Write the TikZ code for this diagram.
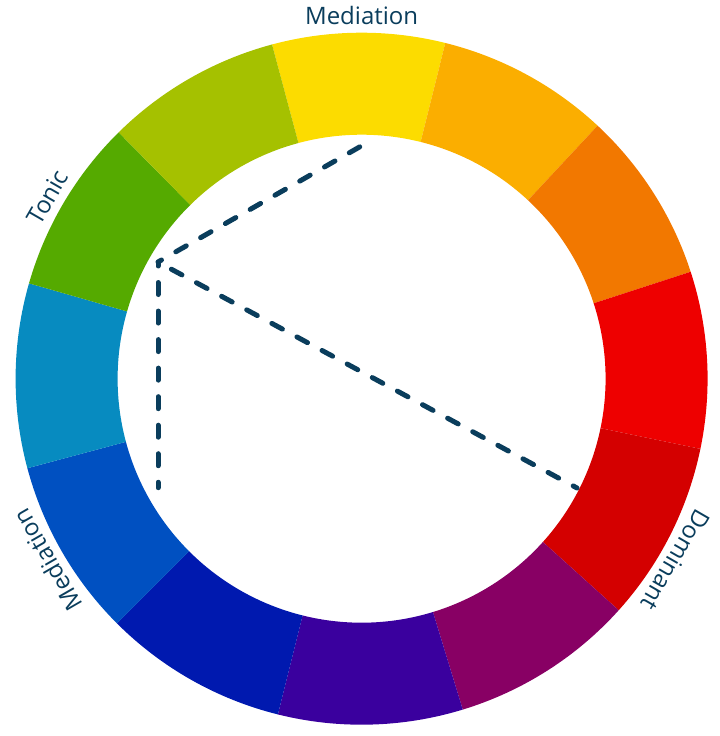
\documentclass[tikz,border=0pt]{standalone}
\usepackage{fontspec}
\setmainfont{Open Sans}
\usetikzlibrary{positioning}
\definecolor{cYellow}{HTML}{FCDC00}
\definecolor{cAmber}{HTML}{FBAE00}
\definecolor{cOrange}{HTML}{F27800}
\definecolor{cRed}{HTML}{EE0000}
\definecolor{cDarkRed}{HTML}{D40000}
\definecolor{cMagenta}{HTML}{880064}
\definecolor{cViolet}{HTML}{3A009E}
\definecolor{cNavy}{HTML}{0019AF}
\definecolor{cBlue}{HTML}{0050C1}
\definecolor{cCyan}{HTML}{078BC0}
\definecolor{cGreen}{HTML}{55AA00}
\definecolor{cLime}{HTML}{A5C100}
\definecolor{ink}{HTML}{0A3D5C}

\begin{document}
\begin{tikzpicture}[x=0.75pt,y=0.75pt,
    step label/.style={text=ink,inner sep=0pt,anchor=base,font=\fontsize{18}{20}\selectfont},
    link/.style={draw=ink,line width=3.75pt,line cap=round,line join=round,
      dash pattern=on 9pt off 12.4pt}]
   \useasboundingbox (0,0) rectangle (720,736);

   \begin{scope}[shift={(361.6,357.3)}]
    % colour ring
    \foreach \c/\s/\e in {cYellow/105/76,cAmber/76/47,cOrange/47/18,cRed/18/-11.7,
        cDarkRed/-11.7/-42,cMagenta/-42/-73,cViolet/-73/-104,cNavy/-104/-135,
        cBlue/-135/-165,cCyan/-165/-196,cGreen/-196/-225.4,cLime/-225.4/-255}{
      \fill[\c] (\s:244) -- (\s:346) arc[start angle=\s,end angle=\e,radius=346]
        -- (\e:244) arc[start angle=\e,end angle=\s,radius=244] -- cycle;
    }

    \node[step label] (mtop) at (90:354) {Mediation};
    \node[step label, rotate=60] (tonic) at (150:354) {Tonic};
    \node[step label, rotate=120] (mlow) at (210:354) {Mediation};
    \node[step label, rotate=240] (dom) at (330:354) {Dominant};

    \coordinate (t) at (-203.6,116.7);
    \coordinate (m1) at (1.4,233.7);
    \coordinate (m2) at (-203.6,-109);
    \coordinate (d) at (215.4,-109.3);
    \draw[link, dash phase=6pt] (t) -- (m1);
    \draw[link, dash phase=6pt] (t) -- (m2);
    \draw[link, dash phase=10pt] (t) -- (d);
   \end{scope}
  \end{tikzpicture}
\end{document}
